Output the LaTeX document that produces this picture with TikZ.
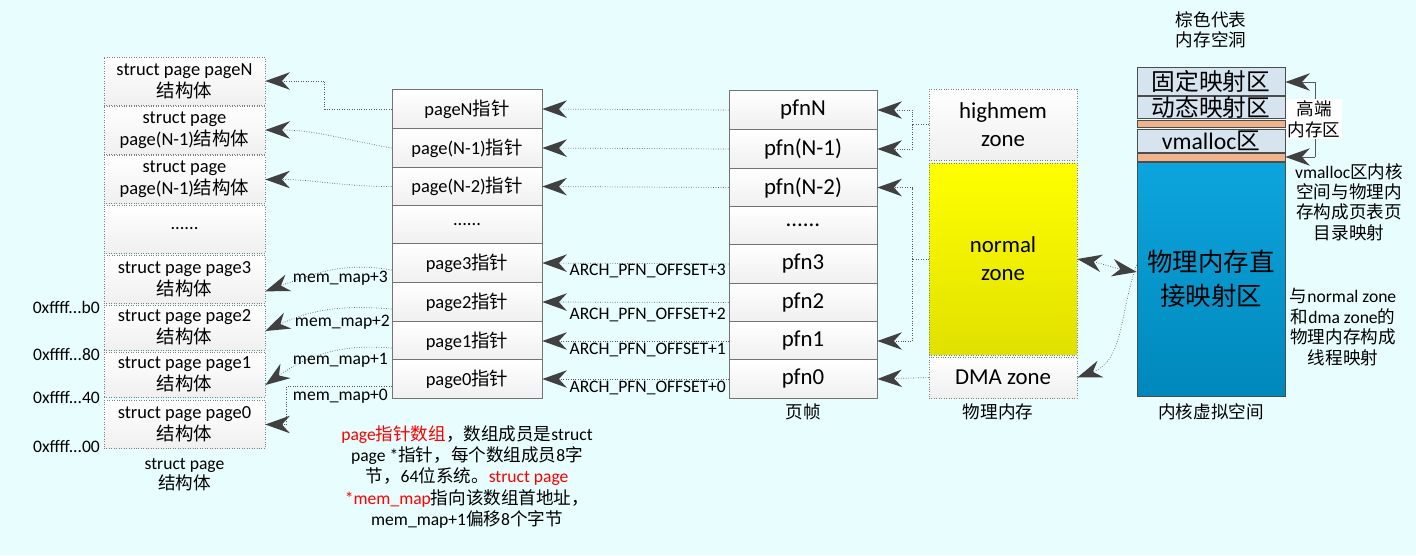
\documentclass[tikz,border=0pt]{standalone}
\usepackage{fontspec}
\setmainfont{Carlito}
\newfontfamily\cjk{Noto Sans CJK SC}
\newcommand\zh[1]{{\cjk #1}}
\usetikzlibrary{arrows.meta,positioning}
\definecolor{bgc}{RGB}{232,253,253}
\definecolor{tipc}{RGB}{64,64,64}
\definecolor{holec}{RGB}{240,180,140}
\definecolor{kblue}{RGB}{0,160,220}
\definecolor{kpale}{RGB}{214,228,240}
\tikzset{
  tip/.tip={Stealth[length=14pt,width=10pt,color=tipc,fill=tipc,line width=0pt]},
  sp/.style={draw=gray, densely dotted, top color=white, bottom color=gray!12,
    minimum width=3.22cm, minimum height=0.96cm, align=center, font=\fontsize{10.5}{12.5}\selectfont, inner sep=1pt},
  ptr/.style={draw=gray!90!black, solid, top color=white, bottom color=gray!12,
    minimum width=3.0cm, minimum height=0.77cm, font=\fontsize{10.5}{12}\selectfont},
  pfn/.style={ptr, minimum width=2.96cm, font=\fontsize{13}{14}\selectfont},
  zone/.style={draw=gray, densely dotted, minimum width=2.96cm, align=center, font=\fontsize{13}{16}\selectfont},
  kv/.style={draw=gray!60!black, minimum width=2.96cm, inner sep=0pt, font=\fontsize{13.5}{15}\selectfont},
  conn/.style={densely dotted, gray!70!black, -tip},
  lbl/.style={font=\fontsize{10}{11.5}\selectfont, inner sep=1pt},
}
\begin{document}
\begin{tikzpicture}[x=0.02cm,y=-0.02cm]
\fill[bgc] (0,0) rectangle (1416,555);
\useasboundingbox (0,0) rectangle (1416,555);

% struct page column
\node[sp] (sN) at (184.5,81) {struct page pageN\\\zh{结构体}};
\node[sp] (sN1) at (184.5,130) {struct page\\page(N-1)\zh{结构体}};
\node[sp] (sN2) at (184.5,179.5) {struct page\\page(N-1)\zh{结构体}};
\node[sp] (sd) at (184.5,229) {......};
\node[sp] (s3) at (184.5,279) {struct page page3\\\zh{结构体}};
\node[sp, minimum height=0.9cm] (s2) at (184.5,327.5) {struct page page2\\\zh{结构体}};
\node[sp, minimum height=0.9cm] (s1) at (184.5,374.5) {struct page page1\\\zh{结构体}};
\node[sp] (s0) at (184.5,424.5) {struct page page0\\\zh{结构体}};
\node[lbl, align=center] (sl) at (184.5,475) {struct page\\\zh{结构体}};
\node[lbl, anchor=east] (a0) at (102,307) {0xffff...b0};
\node[lbl, anchor=east] (a1) at (102,354) {0xffff...80};
\node[lbl, anchor=east] (a2) at (102,397) {0xffff...40};
\node[lbl, anchor=east] (a3) at (102,446) {0xffff...00};

% page pointer column
\node[ptr] (pN) at (467,109) {pageN\zh{指针}};
\node[ptr] (pN1) at (467,148) {page(N-1)\zh{指针}};
\node[ptr] (pN2) at (467,186.5) {page(N-2)\zh{指针}};
\node[ptr] (pd) at (467,224.5) {......};
\node[ptr] (p3) at (467,263) {page3\zh{指针}};
\node[ptr] (p2) at (467,302) {page2\zh{指针}};
\node[ptr] (p1) at (467,341) {page1\zh{指针}};
\node[ptr] (p0) at (467,379) {page0\zh{指针}};

% pfn column
\node[pfn] (fN) at (803,110) {pfnN};
\node[pfn] (fN1) at (803,149) {pfn(N-1)};
\node[pfn] (fN2) at (803,187.5) {pfn(N-2)};
\node[pfn] (fd) at (803,225.5) {......};
\node[pfn] (f3) at (803,264) {pfn3};
\node[pfn] (f2) at (803,302.5) {pfn2};
\node[pfn] (f1) at (803,341) {pfn1};
\node[pfn] (f0) at (803,379) {pfn0};
\node[lbl] (fl) at (803,412) {\zh{页帧}};

% physical memory zones
\node[zone, minimum height=1.42cm, top color=white, bottom color=gray!12] (hz) at (1003,124.5) {highmem\\zone};
\node[zone, minimum height=3.84cm, top color=yellow, bottom color=yellow!88!black] (nz) at (1003,259) {normal\\zone};
\node[zone, minimum height=0.82cm, top color=white, bottom color=gray!12] (dz) at (1003,377.5) {DMA zone};
\node[lbl] (zl) at (998,412) {\zh{物理内存}};

% kernel virtual space
\node[kv, minimum height=0.56cm, fill=kpale] (kf) at (1211,81) {\zh{固定映射区}};
\node[kv, minimum height=0.42cm, fill=kpale] (kd) at (1211,107.5) {\zh{动态映射区}};
\node[kv, minimum height=0.14cm, fill=holec] (kh1) at (1211,123.5) {};
\node[kv, minimum height=0.46cm, fill=kpale] (kvm) at (1211,140.5) {vmalloc\zh{区}};
\node[kv, minimum height=0.16cm, fill=holec] (kh2) at (1211,157) {};
\node[kv, minimum height=4.68cm, top color=kblue!95!white, bottom color=kblue!85!black, align=center, font=\fontsize{14.5}{19}\selectfont\cjk] (kb) at (1211,279) {物理内存直\\接映射区};
\node[lbl, align=center] (kt) at (1211,30) {\zh{棕色代表}\\\zh{内存空洞}};
\node[lbl] (kl) at (1211,412) {\zh{内核虚拟空间}};

% bracket for high memory
\coordinate (bt) at (1315,82);
\coordinate (bb) at (1315,157);
\draw[gray!70!black, -tip] (bt) -- (kf.east |- bt);
\draw[gray!70!black, -tip] (bb) -- (kh2.east |- bb);
\draw[gray!70!black] (bt) -- (bb);
\node[lbl, fill=white, align=center, font=\fontsize{10}{12}\selectfont\cjk] (hl) at (1314,119) {高端\\内存区};
\node[lbl, align=center, font=\fontsize{10}{11.5}\selectfont] (vt) at (1349,202) {vmalloc\zh{区内核}\\\zh{空间与物理内}\\\zh{存构成页表页}\\\zh{目录映射}};
\node[lbl, align=center, font=\fontsize{10}{11.8}\selectfont] (nt) at (1343,327) {\zh{与}normal zone\\\zh{和}dma zone\zh{的}\\\zh{物理内存构成}\\\zh{线程映射}};

% zone -> pfn
\draw[densely dotted, gray!70!black] (hz.west) -- ++(-16,0) coordinate (hj);
\draw[conn] (hj) |- (fN.east);
\draw[conn] (hj) |- (fN1.east);
\draw[densely dotted, gray!70!black] (nz.west) -- ++(-16,0) coordinate (nj);
\draw[conn] (nj) |- (fN2.east);
\draw[conn] (nj) |- (f1.east);
\draw[conn] (dz.west) -- (f0.east);

% pfn -> page pointer
\draw[conn] (fN.west) -- (pN.east);
\draw[conn] (fN1.west) -- (pN1.east);
\draw[conn] (fN2.west) -- (pN2.east);
\draw[conn] (f3.west) -- (p3.east);
\draw[conn] (f2.west) -- (p2.east);
\draw[conn] (f1.west) -- (p1.east);
\draw[conn] (f0.west) -- (p0.east);
\node[lbl, anchor=east] (o3) at (728,271) {ARCH\_PFN\_OFFSET+3};
\node[lbl, anchor=east] (o2) at (728,315) {ARCH\_PFN\_OFFSET+2};
\node[lbl, anchor=east] (o1) at (728,350) {ARCH\_PFN\_OFFSET+1};
\node[lbl, anchor=east] (o0) at (728,388) {ARCH\_PFN\_OFFSET+0};

% page pointer -> struct page
\draw[conn] (pN.west) -- ++(-67,0) |- (sN.east);
\draw[conn] (pN1.west) to[out=170,in=0] (sN1.east);
\draw[conn] (pN2.west) to[out=180,in=0] (sN2.east);
\draw[conn] ([yshift=-4]p3.west) to[out=170,in=20] ([yshift=-7]s3.east);
\draw[conn] ([yshift=-4]p2.west) to[out=175,in=25] ([yshift=-2]s2.east);
\draw[conn] ([yshift=-4]p1.west) to[out=175,in=35] ([yshift=-6]s1.east);
\draw[conn] ([yshift=-4]p0.west) -- ++(-105,0) |- (s0.east);
\node[lbl, anchor=east] (m3) at (390,278) {mem\_map+3};
\node[lbl, anchor=east] (m2) at (392,322) {mem\_map+2};
\node[lbl, anchor=east] (m1) at (390,360) {mem\_map+1};
\node[lbl, anchor=east] (m0) at (390,396) {mem\_map+0};

% zone <-> kernel direct map
\draw[densely dotted, gray!70!black, tip-tip] (nz.east) to[out=-10,in=170] ([yshift=4]kb.west);
\draw[conn] ([yshift=8]kb.west) to[out=250,in=20] (dz.east);

% note
\node[lbl, align=center, font=\fontsize{10}{12}\selectfont] (note) at (467,477) {\textcolor{red}{page\zh{指针数组}}\zh{，数组成员是}struct\\page *\zh{指针，每个数组成员}8\zh{字}\\\zh{节，}64\zh{位系统。}\textcolor{red}{struct page}\\\textcolor{red}{*mem\_map}\zh{指向该数组首地址，}\\mem\_map+1\zh{偏移}8\zh{个字节}};
\end{tikzpicture}
\end{document}
